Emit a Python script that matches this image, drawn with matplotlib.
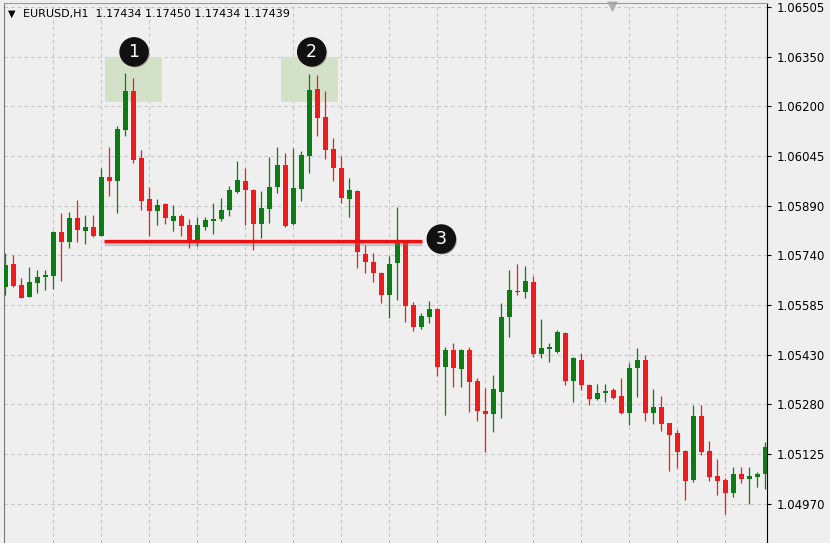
import matplotlib
matplotlib.use("Agg")
import matplotlib.pyplot as plt
import matplotlib.patheffects as pe
from matplotlib.patches import Rectangle

# EURUSD H1 candles
opens = [1.05641, 1.05712, 1.05647, 1.05611, 1.05654, 1.05671, 1.05675, 1.05810, 1.05781, 1.05854,
         1.05815, 1.05825, 1.05799, 1.05982, 1.05969, 1.06126, 1.06246, 1.06038, 1.05912, 1.05876,
         1.05897, 1.05846, 1.05861, 1.05832, 1.05781, 1.05827, 1.05846, 1.05851, 1.05879, 1.05934,
         1.05969, 1.05940, 1.05835, 1.05882, 1.05949, 1.06018, 1.05835, 1.05944, 1.06046, 1.06253,
         1.06167, 1.06067, 1.06009, 1.05912, 1.05937, 1.05743, 1.05719, 1.05685, 1.05616, 1.05714,
         1.05778, 1.05585, 1.05518, 1.05549, 1.05572, 1.05394, 1.05446, 1.05386, 1.05446, 1.05350,
         1.05258, 1.05247, 1.05317, 1.05549, 1.05629, 1.05626, 1.05656, 1.05434, 1.05450, 1.05441,
         1.05500, 1.05351, 1.05415, 1.05338, 1.05294, 1.05312, 1.05322, 1.05304, 1.05252, 1.05390,
         1.05415, 1.05252, 1.05269, 1.05220, 1.05189, 1.05134, 1.05044, 1.05242, 1.05135, 1.05057,
         1.05044, 1.05005, 1.05063, 1.05048, 1.05055, 1.05063]
highs = [1.05745, 1.05740, 1.05669, 1.05703, 1.05693, 1.05693, 1.05815, 1.05868, 1.05872, 1.05910,
         1.05863, 1.05863, 1.06009, 1.06072, 1.06138, 1.06301, 1.06286, 1.06064, 1.05951, 1.05912,
         1.05899, 1.05894, 1.05866, 1.05850, 1.05856, 1.05856, 1.05899, 1.05915, 1.05953, 1.06031,
         1.06008, 1.05943, 1.05937, 1.06043, 1.06074, 1.06054, 1.06069, 1.06062, 1.06299, 1.06296,
         1.06247, 1.06100, 1.06046, 1.05977, 1.05939, 1.05771, 1.05747, 1.05688, 1.05737, 1.05889,
         1.05781, 1.05593, 1.05561, 1.05597, 1.05575, 1.05454, 1.05467, 1.05450, 1.05454, 1.05359,
         1.05328, 1.05369, 1.05592, 1.05693, 1.05712, 1.05706, 1.05675, 1.05541, 1.05469, 1.05508,
         1.05502, 1.05425, 1.05438, 1.05340, 1.05341, 1.05341, 1.05328, 1.05359, 1.05405, 1.05451,
         1.05431, 1.05325, 1.05304, 1.05221, 1.05199, 1.05137, 1.05276, 1.05276, 1.05166, 1.05111,
         1.05050, 1.05084, 1.05085, 1.05085, 1.05070, 1.05163]
lows = [1.05616, 1.05641, 1.05607, 1.05610, 1.05623, 1.05631, 1.05634, 1.05660, 1.05760, 1.05781,
        1.05773, 1.05796, 1.05797, 1.05922, 1.05870, 1.06107, 1.06025, 1.05879, 1.05798, 1.05832,
        1.05835, 1.05815, 1.05798, 1.05760, 1.05767, 1.05817, 1.05804, 1.05846, 1.05860, 1.05930,
        1.05832, 1.05755, 1.05791, 1.05838, 1.05932, 1.05827, 1.05833, 1.05907, 1.05992, 1.06107,
        1.06035, 1.05969, 1.05901, 1.05858, 1.05699, 1.05685, 1.05657, 1.05590, 1.05544, 1.05601,
        1.05534, 1.05505, 1.05510, 1.05529, 1.05366, 1.05245, 1.05333, 1.05331, 1.05255, 1.05228,
        1.05132, 1.05194, 1.05235, 1.05487, 1.05616, 1.05606, 1.05424, 1.05420, 1.05410, 1.05438,
        1.05338, 1.05286, 1.05322, 1.05276, 1.05292, 1.05286, 1.05296, 1.05250, 1.05214, 1.05302,
        1.05228, 1.05217, 1.05197, 1.05073, 1.05081, 1.04983, 1.05039, 1.05122, 1.05042, 1.04998,
        1.04939, 1.04991, 1.05036, 1.04972, 1.05024, 1.05016]
closes = [1.05709, 1.05644, 1.05608, 1.05657, 1.05673, 1.05678, 1.05812, 1.05781, 1.05854, 1.05817,
          1.05825, 1.05798, 1.05982, 1.05969, 1.06129, 1.06246, 1.06033, 1.05907, 1.05876, 1.05893,
          1.05855, 1.05861, 1.05830, 1.05781, 1.05832, 1.05848, 1.05851, 1.05879, 1.05940, 1.05971,
          1.05940, 1.05835, 1.05885, 1.05951, 1.06018, 1.05830, 1.05948, 1.06049, 1.06249, 1.06164,
          1.06064, 1.06009, 1.05915, 1.05940, 1.05750, 1.05719, 1.05685, 1.05616, 1.05712, 1.05778,
          1.05583, 1.05518, 1.05550, 1.05572, 1.05393, 1.05446, 1.05390, 1.05446, 1.05348, 1.05259,
          1.05247, 1.05325, 1.05549, 1.05631, 1.05625, 1.05659, 1.05434, 1.05451, 1.05456, 1.05503,
          1.05350, 1.05420, 1.05338, 1.05294, 1.05314, 1.05319, 1.05299, 1.05252, 1.05390, 1.05415,
          1.05252, 1.05269, 1.05217, 1.05183, 1.05132, 1.05042, 1.05242, 1.05132, 1.05055, 1.05042,
          1.05005, 1.05063, 1.05048, 1.05058, 1.05063, 1.05147]

price_ticks = [1.06505, 1.06350, 1.06200, 1.06045, 1.05890, 1.05740, 1.05585,
               1.05430, 1.05280, 1.05125, 1.04970]
header = "EURUSD,H1  1.17434 1.17450 1.17434 1.17439"

# annotations: neckline, two tops, markers
neck_price = 1.05783
neck_from, neck_to = 12.3, 52.1
tops = [(12.45, 19.6), (34.4, 41.6)]
top_box = (1.06212, 1.06351)
markers = [("1", 16.1, 1.06367), ("2", 38.3, 1.06367), ("3", 54.5, 1.05789)]

bg = "#efefef"
up_col = "#0b7d12"
dn_col = "#ee1c1c"

fig = plt.figure(figsize=(8.3, 5.43), dpi=100, facecolor=bg)
ax = fig.add_axes([4 / 830, 0, 763 / 830, 540 / 543])
ax.set_facecolor(bg)

n = len(opens)
xs = list(range(n))
for i in xs:
    o, h, l, c = opens[i], highs[i], lows[i], closes[i]
    col = up_col if c >= o else dn_col
    ax.vlines(i, l, h, color=col, lw=0.9, zorder=3)
    bot = min(o, c)
    hgt = max(abs(c - o), 0.00004)
    ax.bar(i, hgt, bottom=bot, width=0.62, color=col, edgecolor=col, lw=0, zorder=3)

# shaded boxes behind the two tops
for x0, x1 in tops:
    ax.add_patch(Rectangle((x0, top_box[0]), x1 - x0, top_box[1] - top_box[0],
                           facecolor="#d4e1c9", edgecolor="none", zorder=2))

# neckline
ax.plot([neck_from, neck_to], [neck_price, neck_price], color="#ee1111", lw=2.4,
        solid_capstyle="butt", zorder=5,
        path_effects=[pe.SimpleLineShadow(offset=(0, -2), shadow_color="#777777", alpha=0.35),
                      pe.Normal()])

# numbered markers
for label, mx, my in markers:
    ax.scatter([mx], [my], s=410, color="#111111", zorder=6,
               path_effects=[pe.SimplePatchShadow(offset=(1, -1), alpha=0.3), pe.Normal()])
    ax.text(mx, my, label, color="white", fontsize=12.5, ha="center", va="center", zorder=7)

ax.set_xlim(-0.16, 95.2)
ax.set_ylim(1.04850, 1.06518)

ax.yaxis.tick_right()
ax.set_yticks(price_ticks)
ax.set_yticklabels(["%.5f" % v for v in price_ticks])
ax.tick_params(axis="y", direction="out", length=3, width=0.8, colors="black",
               labelsize=8.5, pad=4)
ax.set_xticks(range(6, 96, 6))
ax.tick_params(axis="x", length=0, labelbottom=False)
ax.grid(True, color="#c4c4c4", linestyle=(0, (3, 3)), lw=0.8, zorder=0)
ax.set_axisbelow(True)

ax.spines["bottom"].set_visible(False)
ax.spines["left"].set_color("#7a7a7a")
ax.spines["top"].set_color("#9a9a9a")
ax.spines["right"].set_color("black")

# small marker at the top edge
ax.scatter([75.8], [1.06510], marker="v", s=40, color="#b0b0b0", zorder=2, clip_on=False)

fig.text(8 / 830, 1 - 14 / 543, "\u25bc", fontsize=7, va="center", ha="left", color="black")
fig.text(23 / 830, 1 - 14 / 543, header, fontsize=8, va="center", ha="left", color="black")

fig.savefig("out.png", dpi=100, facecolor=bg)
